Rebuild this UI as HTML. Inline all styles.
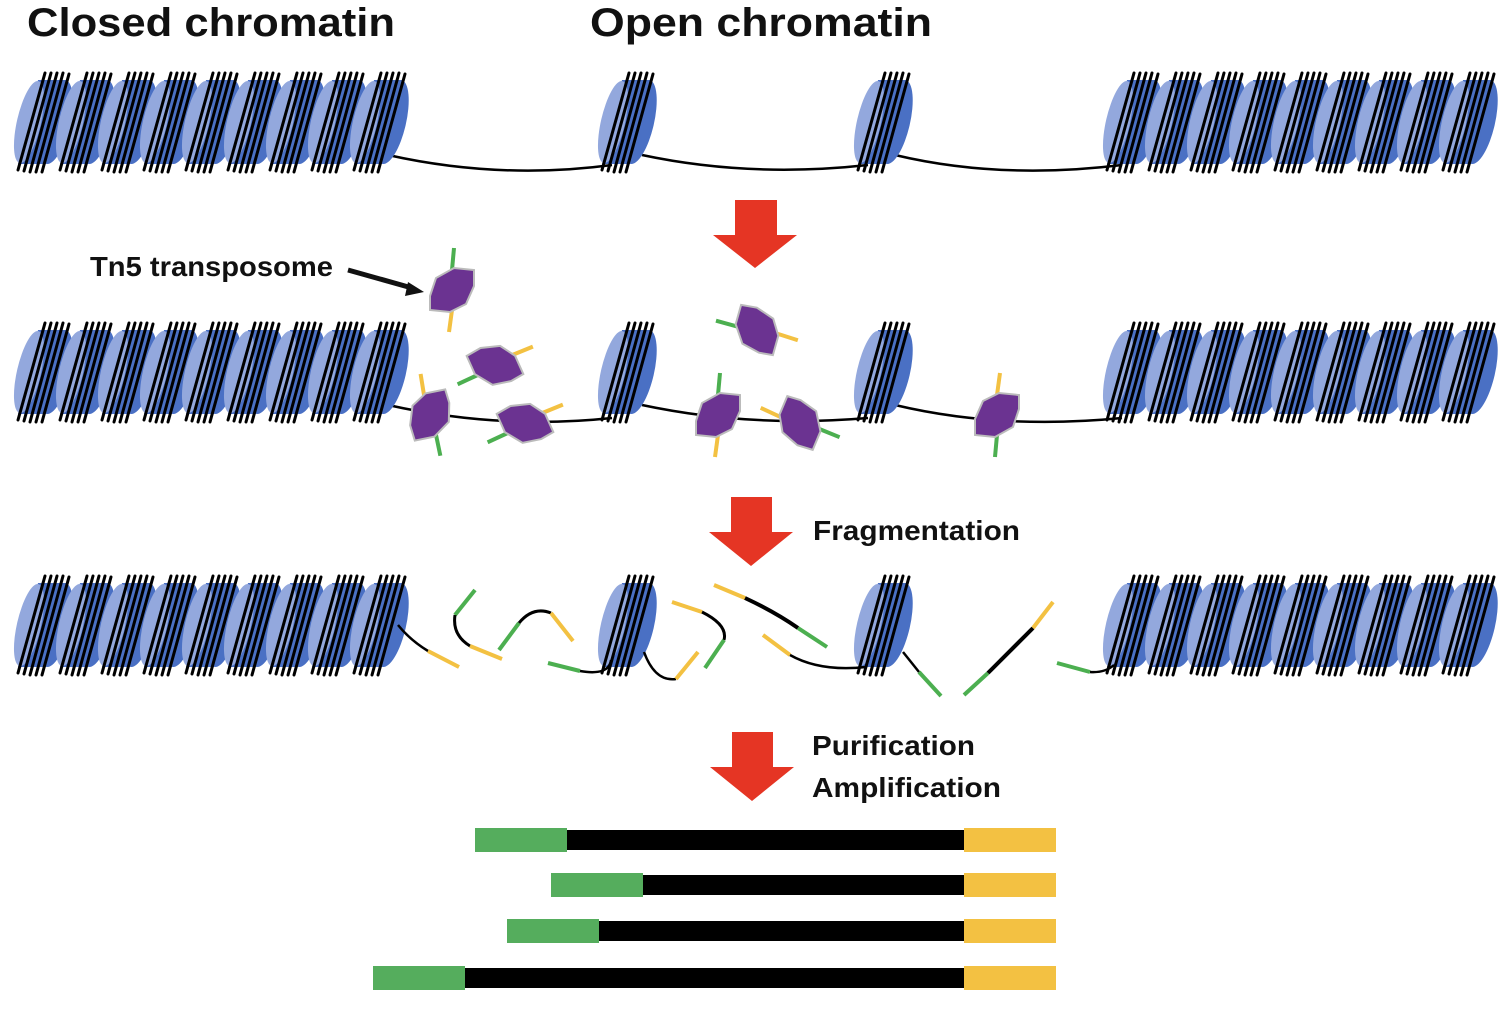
<!DOCTYPE html>
<html><head><meta charset="utf-8"><style>
html,body{margin:0;padding:0;background:#fff;}
svg{display:block;}
text{font-family:"Liberation Sans",sans-serif;font-weight:bold;fill:#111;}
</style></head><body>
<svg width="1510" height="1014" viewBox="0 0 1510 1014" xmlns="http://www.w3.org/2000/svg">
<defs>
<g id="nuc">
  <ellipse cx="8" cy="0" rx="14" ry="43" transform="rotate(13 8 0)" fill="#4a70c4"/>
  <polygon points="-10,-42 18,-42 -2,42 -30,42" fill="#4a70c4"/>
  <ellipse cx="-19" cy="0" rx="12" ry="42" transform="rotate(13 -19 0)" fill="#93a8dd"/>
  <g stroke="#000" stroke-width="3" fill="none" stroke-linecap="round">
    <path d="M-3,-49 L-30,48"/>
    <path d="M3,-49 L-24,49"/>
    <path d="M9,-49 L-18,50"/>
    <path d="M15,-49 L-12,50"/>
    <path d="M21,-48 L-6,50"/>
  </g>
</g>
<g id="tn5">
  <line x1="0" y1="-20" x2="2" y2="-42" stroke="#4caf50" stroke-width="4"/>
  <line x1="0" y1="20" x2="-3" y2="42" stroke="#f3c142" stroke-width="4"/>
  <path d="M-22,6 L-16,-12 L2,-22 L22,-20 L22,-4 L14,14 L-2,22 L-22,20 Z" fill="#6b3391" stroke="#bbb" stroke-width="2"/>
</g>
<g id="cluster">
  <use href="#nuc" x="0"/><use href="#nuc" x="42"/><use href="#nuc" x="84"/>
  <use href="#nuc" x="126"/><use href="#nuc" x="168"/><use href="#nuc" x="210"/>
  <use href="#nuc" x="252"/><use href="#nuc" x="294"/><use href="#nuc" x="336"/>
</g>
</defs>

<text x="27" y="36" font-size="40" textLength="368" lengthAdjust="spacingAndGlyphs">Closed chromatin</text>
<text x="590" y="36" font-size="40" textLength="342" lengthAdjust="spacingAndGlyphs">Open chromatin</text>

<g fill="none" stroke="#000" stroke-width="2.5">
  <path d="M388,155 Q500,180 612,165"/>
  <path d="M642,155 Q750,178 868,165"/>
  <path d="M895,155 Q1000,180 1122,165"/>
</g>
<use href="#cluster" x="48" y="122"/>
<use href="#nuc" x="632" y="122"/>
<use href="#nuc" x="888" y="122"/>
<use href="#cluster" x="1137" y="122"/>

<polygon points="735,200 777,200 777,235 797,235 755,268 713,235 735,235" fill="#e53524"/>

<text x="90" y="276" font-size="28" textLength="243" lengthAdjust="spacingAndGlyphs">Tn5 transposome</text>
<line x1="348" y1="270" x2="412" y2="288" stroke="#111" stroke-width="5"/>
<polygon points="424,292 408,282 405,296" fill="#111"/>

<g fill="none" stroke="#000" stroke-width="2.5">
  <path d="M388,405 Q500,430 612,418"/>
  <path d="M642,405 Q750,428 868,418"/>
  <path d="M895,405 Q1000,430 1122,418"/>
</g>
<use href="#cluster" x="48" y="372"/>
<use href="#nuc" x="632" y="372"/>
<use href="#nuc" x="888" y="372"/>
<use href="#cluster" x="1137" y="372"/>
<use href="#tn5" transform="translate(452,290)"/>
<use href="#tn5" transform="translate(495,365) rotate(-120)"/>
<use href="#tn5" transform="translate(430,415) rotate(163)"/>
<use href="#tn5" transform="translate(525,423) rotate(-120)"/>
<use href="#tn5" transform="translate(757,330) rotate(-80)"/>
<use href="#tn5" transform="translate(718,415)"/>
<use href="#tn5" transform="translate(800,423) rotate(107)"/>
<use href="#tn5" transform="translate(997,415) rotate(180)"/>

<polygon points="731,497 772,497 772,532 793,532 751,566 709,532 731,532" fill="#e53524"/>
<text x="813" y="540" font-size="28" textLength="207" lengthAdjust="spacingAndGlyphs">Fragmentation</text>

<use href="#cluster" x="48" y="625"/>
<use href="#nuc" x="632" y="625"/>
<use href="#nuc" x="888" y="625"/>
<use href="#cluster" x="1137" y="625"/>
<g fill="none" stroke-width="4">
  <path d="M398,625 Q410,640 428,651" stroke="#000" stroke-width="2.5"/>
  <path d="M428,651 L459,667" stroke="#f3c142"/>
  <path d="M475,590 L455,615" stroke="#4caf50"/>
  <path d="M455,615 Q452,635 470,646" stroke="#000" stroke-width="3"/>
  <path d="M470,646 L502,659" stroke="#f3c142"/>
  <path d="M499,650 L519,623" stroke="#4caf50"/>
  <path d="M519,623 Q533,606 551,613" stroke="#000" stroke-width="3"/>
  <path d="M551,613 L573,641" stroke="#f3c142"/>
  <path d="M548,663 L580,671" stroke="#4caf50"/>
  <path d="M580,671 Q609,676 611,660" stroke="#000" stroke-width="2.5"/>
  <path d="M672,602 L702,612" stroke="#f3c142"/>
  <path d="M702,612 Q728,625 724,640" stroke="#000" stroke-width="3"/>
  <path d="M724,640 L705,668" stroke="#4caf50"/>
  <path d="M644,652 Q655,682 676,679" stroke="#000" stroke-width="2.5"/>
  <path d="M676,679 L698,652" stroke="#f3c142"/>
  <path d="M714,585 L745,598" stroke="#f3c142"/>
  <path d="M745,598 Q775,612 798,628" stroke="#000" stroke-width="4"/>
  <path d="M798,628 L827,647" stroke="#4caf50"/>
  <path d="M763,635 L790,655" stroke="#f3c142"/>
  <path d="M790,655 Q820,672 866,667" stroke="#000" stroke-width="2.5"/>
  <path d="M903,652 L919,672" stroke="#000" stroke-width="2.5"/>
  <path d="M919,672 L941,696" stroke="#4caf50"/>
  <path d="M964,695 L988,673" stroke="#4caf50"/>
  <path d="M988,673 L1033,628" stroke="#000" stroke-width="4"/>
  <path d="M1033,628 L1053,602" stroke="#f3c142"/>
  <path d="M1057,663 L1090,672" stroke="#4caf50"/>
  <path d="M1090,672 Q1105,673 1114,665" stroke="#000" stroke-width="2.5"/>
</g>

<polygon points="732,732 773,732 773,767 794,767 752,801 710,767 732,767" fill="#e53524"/>
<text x="812" y="755" font-size="28" textLength="163" lengthAdjust="spacingAndGlyphs">Purification</text>
<text x="812" y="797" font-size="28" textLength="189" lengthAdjust="spacingAndGlyphs">Amplification</text>

<rect x="567" y="830" width="397" height="20" fill="#000"/>
<rect x="475" y="828" width="92" height="24" fill="#55ad5d"/>
<rect x="964" y="828" width="92" height="24" fill="#f3c142"/>
<rect x="643" y="875" width="321" height="20" fill="#000"/>
<rect x="551" y="873" width="92" height="24" fill="#55ad5d"/>
<rect x="964" y="873" width="92" height="24" fill="#f3c142"/>
<rect x="599" y="921" width="365" height="20" fill="#000"/>
<rect x="507" y="919" width="92" height="24" fill="#55ad5d"/>
<rect x="964" y="919" width="92" height="24" fill="#f3c142"/>
<rect x="465" y="968" width="499" height="20" fill="#000"/>
<rect x="373" y="966" width="92" height="24" fill="#55ad5d"/>
<rect x="964" y="966" width="92" height="24" fill="#f3c142"/>
</svg>
</body></html>
